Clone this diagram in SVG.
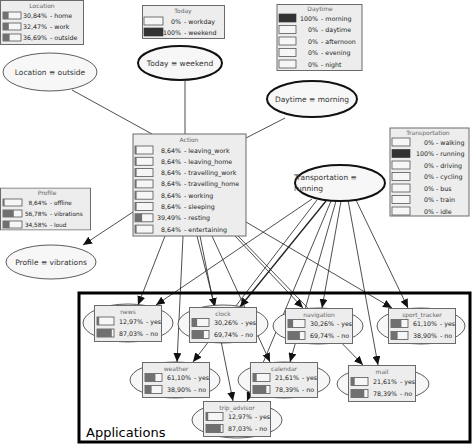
<svg xmlns="http://www.w3.org/2000/svg" width="474" height="445" viewBox="0 0 474 445">
<style>
.box{fill:#ededed;stroke:#6a6a6a;stroke-width:1}
.bar{fill:#f6f6f6;stroke:#555;stroke-width:0.8}
.fl{fill:#707070}
.full{fill:#333}
text{font-family:"DejaVu Sans",sans-serif}
.ttl{font-size:6px;fill:#666;text-anchor:middle}
.pct{font-size:6.3px;fill:#222;text-anchor:end}
.lbl{font-size:6.3px;fill:#222}
.sm{font-size:5.8px}
.el{fill:#f7f7f7;stroke:#333;stroke-width:0.8}
.elb{fill:#f7f7f7;stroke:#111;stroke-width:2}
.etx{font-size:7.5px;fill:#333;text-anchor:middle}
.cn line{stroke:#222;stroke-width:0.8;fill:none}
.cn .a{marker-end:url(#arr)}
.frame{fill:none;stroke:#000;stroke-width:3}
</style>
<defs>
<marker id="arr" markerUnits="userSpaceOnUse" markerWidth="9" markerHeight="8" refX="9" refY="4" orient="auto">
<path d="M0,0 L9,4 L0,8 z" fill="#111"/>
</marker>
</defs>
<rect width="474" height="445" fill="#fff"/>

<g class="cn" id="connectors">
<line x1="72" y1="90" x2="152" y2="134"/>
<line x1="185" y1="81" x2="185" y2="134"/>
<line x1="285" y1="118" x2="246" y2="138"/>
<line class="a" x1="133" y1="212" x2="83" y2="245"/>
<line class="a" x1="165" y1="236" x2="138" y2="305"/>
<line class="a" x1="183" y1="236" x2="177" y2="362"/>
<line class="a" x1="197" y1="236" x2="215" y2="307"/>
<line class="a" x1="200" y1="236" x2="233" y2="401"/>
<line class="a" x1="212" y1="236" x2="270" y2="362"/>
<line class="a" x1="235" y1="236" x2="303" y2="308"/>
<line class="a" x1="238" y1="236" x2="363" y2="365"/>
<line class="a" x1="246" y1="222" x2="392" y2="308"/>
<line class="a" x1="312" y1="199" x2="156" y2="305"/>
<line class="a" x1="326" y1="201" x2="240" y2="307" style="stroke-width:1.3"/>
<line class="a" x1="317" y1="200" x2="193" y2="362"/>
<line class="a" x1="331" y1="201" x2="247" y2="401"/>
<line class="a" x1="336" y1="201" x2="290" y2="362"/>
<line class="a" x1="341" y1="201" x2="322" y2="308"/>
<line class="a" x1="348" y1="200" x2="378" y2="365"/>
<line class="a" x1="355" y1="198" x2="408" y2="308"/>
</g>

<g id="location">
<rect class="box" x="0.5" y="0.5" width="83" height="44"/>
<text class="ttl" x="42" y="8">Location</text>
<rect class="bar" x="3" y="12" width="18" height="7"/><rect class="fl" x="3" y="12" width="5.6" height="7"/>
<text class="pct" x="47" y="17.5">30,84%</text><text class="lbl" x="50" y="17.5">- home</text>
<rect class="bar" x="3" y="23" width="18" height="7"/><rect class="fl" x="3" y="23" width="5.8" height="7"/>
<text class="pct" x="47" y="28.5">32,47%</text><text class="lbl" x="50" y="28.5">- work</text>
<rect class="bar" x="3" y="34" width="18" height="7"/><rect class="fl" x="3" y="34" width="6.6" height="7"/>
<text class="pct" x="47" y="39.5">36,69%</text><text class="lbl" x="50" y="39.5">- outside</text>
</g>
<g id="location-state">
<ellipse class="el" cx="50" cy="72" rx="47" ry="19"/>
<text class="etx" x="50" y="75">Location ≡ outside</text>
</g>

<g id="today">
<rect class="box" x="142.5" y="5.5" width="82" height="33"/>
<text class="ttl" x="183" y="12.5">Today</text>
<rect class="bar" x="144" y="17" width="19" height="8"/>
<text class="pct" x="181" y="23.5">0%</text><text class="lbl" x="184" y="23.5">- workday</text>
<rect class="bar" x="144" y="28" width="19" height="8"/><rect class="full" x="144" y="28" width="19" height="8"/>
<text class="pct" x="181" y="34.5">100%</text><text class="lbl" x="184" y="34.5">- weekend</text>
</g>
<g id="today-state">
<ellipse class="elb" cx="180" cy="63" rx="42" ry="17"/>
<text class="etx" x="180" y="66">Today ≡ weekend</text>
</g>

<g id="daytime">
<rect class="box" x="277" y="4.5" width="85" height="66"/>
<text class="ttl" x="320" y="11">Daytime</text>
<rect class="bar" x="279" y="14" width="17" height="8"/><rect class="full" x="279" y="14" width="17" height="8"/>
<text class="pct" x="318" y="20.5">100%</text><text class="lbl" x="321" y="20.5">- morning</text>
<rect class="bar" x="279" y="25.5" width="17" height="8"/>
<text class="pct" x="318" y="32">0%</text><text class="lbl" x="321" y="32">- daytime</text>
<rect class="bar" x="279" y="37" width="17" height="8"/>
<text class="pct" x="318" y="43.5">0%</text><text class="lbl" x="321" y="43.5">- afternoon</text>
<rect class="bar" x="279" y="48.5" width="17" height="8"/>
<text class="pct" x="318" y="55">0%</text><text class="lbl" x="321" y="55">- evening</text>
<rect class="bar" x="279" y="60" width="17" height="8"/>
<text class="pct" x="318" y="66.5">0%</text><text class="lbl" x="321" y="66.5">- night</text>
</g>
<g id="daytime-state">
<ellipse class="elb" cx="312" cy="99" rx="45" ry="18"/>
<text class="etx" x="312" y="102">Daytime ≡ morning</text>
</g>

<g id="action">
<rect class="box" x="133" y="134" width="113" height="102"/>
<text class="ttl" x="189" y="141.5">Action</text>
<rect class="bar" x="135" y="146" width="18" height="8"/><rect class="fl" x="135" y="146" width="1.6" height="8"/>
<text class="pct" x="181" y="152.5">8,64%</text><text class="lbl" x="184" y="152.5">- leaving_work</text>
<rect class="bar" x="135" y="157.3" width="18" height="8"/><rect class="fl" x="135" y="157.3" width="1.6" height="8"/>
<text class="pct" x="181" y="163.8">8,64%</text><text class="lbl" x="184" y="163.8">- leaving_home</text>
<rect class="bar" x="135" y="168.6" width="18" height="8"/><rect class="fl" x="135" y="168.6" width="1.6" height="8"/>
<text class="pct" x="181" y="175.1">8,64%</text><text class="lbl" x="184" y="175.1">- travelling_work</text>
<rect class="bar" x="135" y="179.9" width="18" height="8"/><rect class="fl" x="135" y="179.9" width="1.6" height="8"/>
<text class="pct" x="181" y="186.4">8,64%</text><text class="lbl" x="184" y="186.4">- travelling_home</text>
<rect class="bar" x="135" y="191.2" width="18" height="8"/><rect class="fl" x="135" y="191.2" width="1.6" height="8"/>
<text class="pct" x="181" y="197.7">8,64%</text><text class="lbl" x="184" y="197.7">- working</text>
<rect class="bar" x="135" y="202.5" width="18" height="8"/><rect class="fl" x="135" y="202.5" width="1.6" height="8"/>
<text class="pct" x="181" y="209">8,64%</text><text class="lbl" x="184" y="209">- sleeping</text>
<rect class="bar" x="135" y="213.8" width="18" height="8"/><rect class="fl" x="135" y="213.8" width="7.1" height="8"/>
<text class="pct" x="181" y="220.3">39,49%</text><text class="lbl" x="184" y="220.3">- resting</text>
<rect class="bar" x="135" y="225.1" width="18" height="8"/><rect class="fl" x="135" y="225.1" width="1.6" height="8"/>
<text class="pct" x="181" y="231.6">8,64%</text><text class="lbl" x="184" y="231.6">- entertaining</text>
</g>

<g id="transportation">
<rect class="box" x="390" y="128" width="79" height="88"/>
<text class="ttl" x="428" y="135">Transportation</text>
<rect class="bar" x="392" y="138" width="18" height="8"/>
<text class="pct" x="434" y="144.5">0%</text><text class="lbl" x="436" y="144.5">- walking</text>
<rect class="bar" x="392" y="149.5" width="18" height="8"/><rect class="full" x="392" y="149.5" width="18" height="8"/>
<text class="pct" x="434" y="156">100%</text><text class="lbl" x="436" y="156">- running</text>
<rect class="bar" x="392" y="161" width="18" height="8"/>
<text class="pct" x="434" y="167.5">0%</text><text class="lbl" x="436" y="167.5">- driving</text>
<rect class="bar" x="392" y="172.5" width="18" height="8"/>
<text class="pct" x="434" y="179">0%</text><text class="lbl" x="436" y="179">- cycling</text>
<rect class="bar" x="392" y="184" width="18" height="8"/>
<text class="pct" x="434" y="190.5">0%</text><text class="lbl" x="436" y="190.5">- bus</text>
<rect class="bar" x="392" y="195.5" width="18" height="8"/>
<text class="pct" x="434" y="202">0%</text><text class="lbl" x="436" y="202">- train</text>
<rect class="bar" x="392" y="207" width="18" height="8"/>
<text class="pct" x="434" y="213.5">0%</text><text class="lbl" x="436" y="213.5">- idle</text>
</g>
<g id="transportation-state">
<ellipse class="elb" cx="340" cy="183" rx="45" ry="18"/>
<text class="etx" x="294" y="180" style="text-anchor:start">Transportation ≡</text>
<text class="etx" x="294" y="191" style="text-anchor:start">running</text>
</g>

<g id="profile">
<svg x="0" y="187.5" width="91" height="43" overflow="hidden">
<rect class="box" x="0.5" y="0.5" width="90" height="42"/>
<text class="ttl" x="47" y="7.5">Profile</text>
<rect class="bar" x="3" y="11.5" width="19" height="7"/><rect class="fl" x="3" y="11.5" width="1.6" height="7"/>
<text class="pct sm" x="47" y="17.5">8,64%</text><text class="lbl sm" x="50" y="17.5">- offline</text>
<rect class="bar" x="3" y="22.5" width="19" height="7"/><rect class="fl" x="3" y="22.5" width="10.8" height="7"/>
<text class="pct sm" x="47" y="28.5">56,78%</text><text class="lbl sm" x="50" y="28.5">- vibrations</text>
<rect class="bar" x="3" y="33.5" width="19" height="7"/><rect class="fl" x="3" y="33.5" width="6.6" height="7"/>
<text class="pct sm" x="47" y="39.5">34,58%</text><text class="lbl sm" x="50" y="39.5">- loud</text>
</svg>
</g>
<g id="profile-state">
<ellipse class="el" cx="51" cy="262" rx="45" ry="17"/>
<text class="etx" x="51" y="265">Profile ≡ vibrations</text>
</g>

<g id="applications">
<rect class="frame" x="79" y="293" width="391" height="149"/>
<text x="86" y="437" style="font-size:13px;fill:#000">Applications</text>
</g>

<g id="news">
<ellipse class="el" cx="128" cy="323" rx="45" ry="19"/>
<svg x="94" y="305" width="68" height="37" overflow="hidden">
<rect class="box" x="0.5" y="0.5" width="67" height="36"/>
<text class="ttl" x="34" y="9">news</text>
<rect class="bar" x="3" y="12" width="17" height="8"/><rect class="fl" x="3" y="12" width="2.2" height="8"/>
<text class="pct" x="49" y="18.5">12,97%</text><text class="lbl" x="52" y="18.5">- yes</text>
<rect class="bar" x="3" y="24" width="17" height="8"/><rect class="fl" x="3" y="24" width="14.8" height="8"/>
<text class="pct" x="49" y="30.5">87,03%</text><text class="lbl" x="52" y="30.5">- no</text>
</svg>
</g>

<g id="clock">
<ellipse class="el" cx="223" cy="324" rx="45" ry="19"/>
<svg x="189" y="307" width="68" height="36" overflow="hidden">
<rect class="box" x="0.5" y="0.5" width="67" height="35"/>
<text class="ttl" x="34" y="8.5">clock</text>
<rect class="bar" x="3" y="11.5" width="17" height="8"/><rect class="fl" x="3" y="11.5" width="5.1" height="8"/>
<text class="pct" x="49" y="18">30,26%</text><text class="lbl" x="52" y="18">- yes</text>
<rect class="bar" x="3" y="23.5" width="17" height="8"/><rect class="fl" x="3" y="23.5" width="11.9" height="8"/>
<text class="pct" x="49" y="30">69,74%</text><text class="lbl" x="52" y="30">- no</text>
</svg>
</g>

<g id="navigation">
<ellipse class="el" cx="318" cy="326" rx="45" ry="18"/>
<svg x="285" y="308" width="68" height="36" overflow="hidden">
<rect class="box" x="0.5" y="0.5" width="67" height="35"/>
<text class="ttl" x="34" y="8.5">navigation</text>
<rect class="bar" x="3" y="11.5" width="17" height="8"/><rect class="fl" x="3" y="11.5" width="5.1" height="8"/>
<text class="pct" x="49" y="18">30,26%</text><text class="lbl" x="52" y="18">- yes</text>
<rect class="bar" x="3" y="23.5" width="17" height="8"/><rect class="fl" x="3" y="23.5" width="11.9" height="8"/>
<text class="pct" x="49" y="30">69,74%</text><text class="lbl" x="52" y="30">- no</text>
</svg>
</g>

<g id="sport_tracker">
<ellipse class="el" cx="421" cy="326" rx="44" ry="18"/>
<svg x="388" y="308" width="68" height="36" overflow="hidden">
<rect class="box" x="0.5" y="0.5" width="67" height="35"/>
<text class="ttl" x="34" y="8.5">sport_tracker</text>
<rect class="bar" x="3" y="11.5" width="17" height="8"/><rect class="fl" x="3" y="11.5" width="10.4" height="8"/>
<text class="pct" x="49" y="18">61,10%</text><text class="lbl" x="52" y="18">- yes</text>
<rect class="bar" x="3" y="23.5" width="17" height="8"/><rect class="fl" x="3" y="23.5" width="6.6" height="8"/>
<text class="pct" x="49" y="30">38,90%</text><text class="lbl" x="52" y="30">- no</text>
</svg>
</g>

<g id="weather">
<ellipse class="el" cx="175" cy="380" rx="45" ry="18"/>
<svg x="142" y="362" width="68" height="36" overflow="hidden">
<rect class="box" x="0.5" y="0.5" width="67" height="35"/>
<text class="ttl" x="34" y="8.5">weather</text>
<rect class="bar" x="3" y="11.5" width="17" height="8"/><rect class="fl" x="3" y="11.5" width="10.4" height="8"/>
<text class="pct" x="49" y="18">61,10%</text><text class="lbl" x="52" y="18">- yes</text>
<rect class="bar" x="3" y="23.5" width="17" height="8"/><rect class="fl" x="3" y="23.5" width="6.6" height="8"/>
<text class="pct" x="49" y="30">38,90%</text><text class="lbl" x="52" y="30">- no</text>
</svg>
</g>

<g id="calendar">
<ellipse class="el" cx="284" cy="380" rx="46" ry="18"/>
<svg x="250" y="362" width="68" height="36" overflow="hidden">
<rect class="box" x="0.5" y="0.5" width="67" height="35"/>
<text class="ttl" x="34" y="8.5">calendar</text>
<rect class="bar" x="3" y="11.5" width="17" height="8"/><rect class="fl" x="3" y="11.5" width="3.7" height="8"/>
<text class="pct" x="49" y="18">21,61%</text><text class="lbl" x="52" y="18">- yes</text>
<rect class="bar" x="3" y="23.5" width="17" height="8"/><rect class="fl" x="3" y="23.5" width="13.3" height="8"/>
<text class="pct" x="49" y="30">78,39%</text><text class="lbl" x="52" y="30">- no</text>
</svg>
</g>

<g id="mail">
<ellipse class="el" cx="383" cy="384" rx="46" ry="17"/>
<svg x="348" y="365" width="68" height="37" overflow="hidden">
<rect class="box" x="0.5" y="0.5" width="67" height="36"/>
<text class="ttl" x="34" y="8.5">mail</text>
<rect class="bar" x="3" y="12.5" width="17" height="8"/><rect class="fl" x="3" y="12.5" width="3.7" height="8"/>
<text class="pct" x="49" y="19">21,61%</text><text class="lbl" x="52" y="19">- yes</text>
<rect class="bar" x="3" y="24.5" width="17" height="8"/><rect class="fl" x="3" y="24.5" width="13.3" height="8"/>
<text class="pct" x="49" y="31">78,39%</text><text class="lbl" x="52" y="31">- no</text>
</svg>
</g>

<g id="trip_advisor">
<ellipse class="el" cx="237" cy="420" rx="45" ry="18"/>
<svg x="203" y="401" width="68" height="36" overflow="hidden">
<rect class="box" x="0.5" y="0.5" width="67" height="35"/>
<text class="ttl" x="34" y="8.5">trip_advisor</text>
<rect class="bar" x="3" y="11.5" width="17" height="8"/><rect class="fl" x="3" y="11.5" width="2.2" height="8"/>
<text class="pct" x="49" y="18">12,97%</text><text class="lbl" x="52" y="18">- yes</text>
<rect class="bar" x="3" y="23.5" width="17" height="8"/><rect class="fl" x="3" y="23.5" width="14.8" height="8"/>
<text class="pct" x="49" y="30">87,03%</text><text class="lbl" x="52" y="30">- no</text>
</svg>
</g>
</svg>
